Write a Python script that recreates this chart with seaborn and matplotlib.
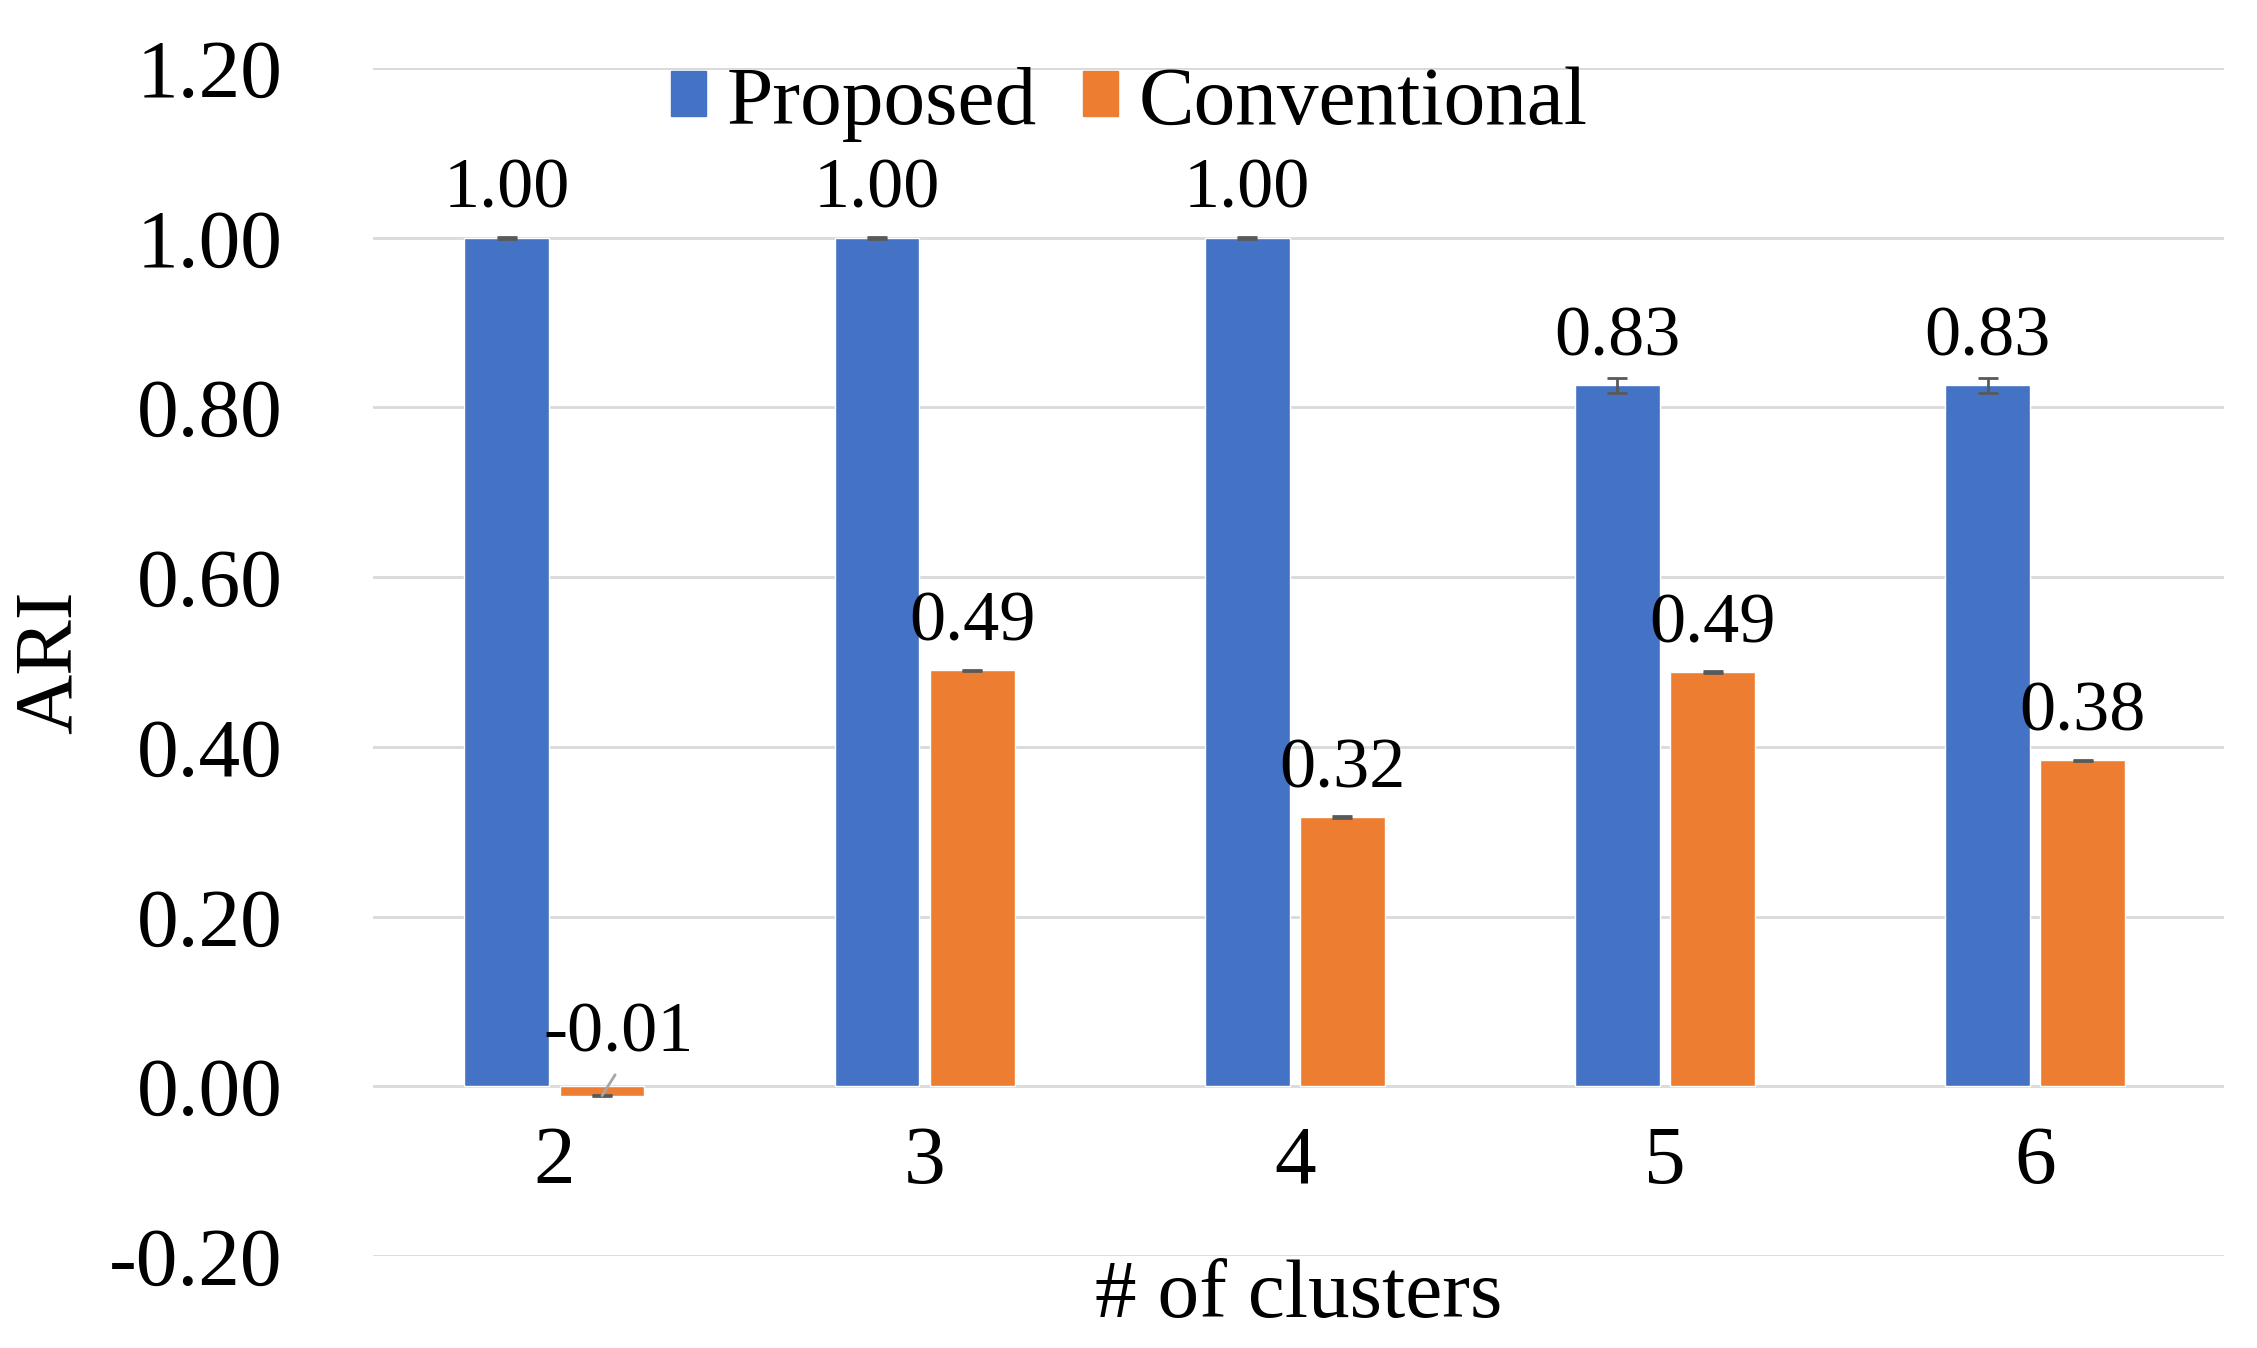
import pandas as pd
import seaborn as sns
import matplotlib
import matplotlib.pyplot as plt
from matplotlib.patches import Patch

matplotlib.use("Agg")

clusters = ["2", "3", "4", "5", "6"]
methods = ["Proposed", "Conventional"]
proposed = [1.00, 1.00, 1.00, 0.826, 0.826]
conventional = [-0.011, 0.490, 0.317, 0.488, 0.384]
proposed_err = [0.001, 0.001, 0.001, 0.009, 0.009]
conventional_err = [0.001, 0.001, 0.001, 0.001, 0.001]
y_ticks = [-0.2, 0.0, 0.2, 0.4, 0.6, 0.8, 1.0, 1.2]
colors = ["#4472C4", "#ED7D31"]

df = pd.DataFrame({
    "clusters": clusters * 2,
    "method": [methods[0]] * len(clusters) + [methods[1]] * len(clusters),
    "ARI": proposed + conventional,
})

sns.set_style("white")
plt.rcParams["font.family"] = ["Liberation Serif", "DejaVu Serif"]
plt.rcParams["text.color"] = "black"
plt.rcParams["axes.labelcolor"] = "black"
plt.rcParams["xtick.color"] = "black"
plt.rcParams["ytick.color"] = "black"

W, H = 2257, 1348
fig = plt.figure(figsize=(W / 100, H / 100), dpi=100)
ax = fig.add_axes([373 / W, 1 - 1256 / H, (2224 - 373) / W, (1256 - 68) / H])

sns.barplot(data=df, x="clusters", y="ARI", hue="method", palette=colors,
            width=0.515, gap=0.11, errorbar=None, saturation=1,
            legend=False, ax=ax)

# error bars + data labels
for cont, vals, err in zip(ax.containers, [proposed, conventional],
                           [proposed_err, conventional_err]):
    xs = [b.get_x() + b.get_width() / 2 for b in cont]
    ax.errorbar(xs, vals, yerr=err, fmt="none", ecolor="#595959",
                elinewidth=2, capsize=7, capthick=2, zorder=3)
    for x, v in zip(xs, vals):
        if v >= 0:
            ax.annotate(f"{v:.2f}", xy=(x, v), xytext=(0, 21.6),
                        textcoords="offset points", ha="center",
                        va="baseline", fontsize=52, color="black")
        else:
            # label sits above the axis, with a short leader line to the bar
            ax.annotate(f"{v:.2f}", xy=(x, v), xytext=(12, 32),
                        textcoords="offset points", ha="center",
                        va="baseline", fontsize=52, color="black")
            ax.annotate("", xy=(x, v), xytext=(9.4, 15),
                        textcoords="offset points",
                        arrowprops=dict(arrowstyle="-", color="#A6A6A6",
                                        lw=2, shrinkA=0, shrinkB=0),
                        zorder=4)

ax.set_xlim(-0.49, 4.51)
ax.set_ylim(-0.2, 1.2)
ax.set_yticks(y_ticks)
ax.set_yticklabels([f"{t:.2f}" for t in y_ticks])
ax.yaxis.grid(True, color="#D9D9D9", lw=2)
ax.set_axisbelow(True)
for s in ax.spines.values():
    s.set_visible(False)
ax.spines["bottom"].set_position(("data", 0))
ax.tick_params(axis="x", length=0, pad=28, labelsize=60)
ax.tick_params(axis="y", length=0, pad=65, labelsize=60)

ax.set_xlabel("# of clusters", fontsize=60)
ax.xaxis.set_label_coords(0.5, -0.035)
ax.xaxis.label.set_va("center")
ax.set_ylabel("ARI", fontsize=60)
ax.yaxis.set_label_coords(-0.174, 0.5)
ax.yaxis.label.set_va("center")

handles = [Patch(color=c) for c in colors]
fig.legend(handles, methods, loc="center", bbox_to_anchor=(0.5005, 0.923),
           ncol=2, frameon=False, fontsize=60, handlelength=0.42,
           handleheight=0.45, handletextpad=0.25, columnspacing=0.55)

fig.savefig("out.png", dpi=100)
